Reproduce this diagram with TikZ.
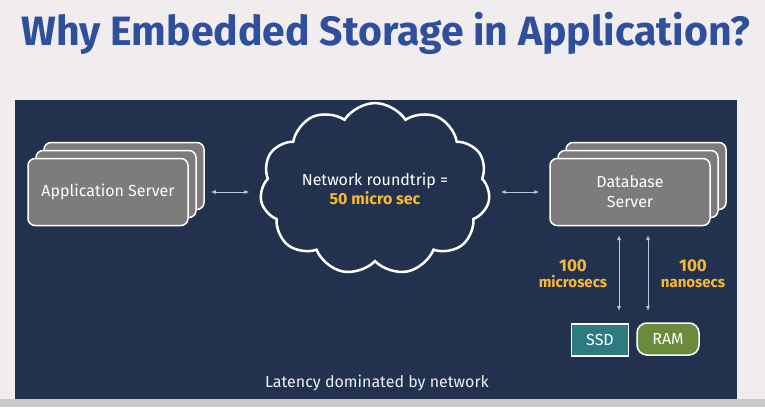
\documentclass[tikz,border=0pt]{standalone}
\usepackage{fontspec}
\setmainfont{Fira Sans}
\usepackage{tikz}
\usetikzlibrary{positioning, arrows.meta, shapes.symbols, shadows}

\definecolor{pagebg}{HTML}{F1EDEF}
\definecolor{titleblue}{HTML}{2E4F9B}
\definecolor{panelblue}{HTML}{22324E}
\definecolor{boxgray}{HTML}{7D7B7B}
\definecolor{linkgray}{HTML}{BCC8D8}
\definecolor{hiyellow}{HTML}{F6B931}
\definecolor{ssdteal}{HTML}{2B7B80}
\definecolor{ramgreen}{HTML}{6A8B3B}
\definecolor{stripgray}{HTML}{C9C9C9}
\newcommand{\unitfont}{\bfseries\fontsize{15}{16}\selectfont}

\begin{document}
\begin{tikzpicture}[x=1pt, y=-1pt,
  server/.style={draw=white, line width=1.5pt, fill=boxgray, rounded corners=7pt,
    minimum width=160pt, minimum height=67pt, text=white, align=center,
    font=\fontsize{16}{20}\selectfont,
    double copy shadow={shadow xshift=8pt, shadow yshift=8pt, fill=boxgray, draw=white, line width=1.5pt}},
  link/.style={draw=linkgray, line width=1pt, {Latex[length=5pt,width=4pt]}-{Latex[length=5pt,width=4pt]}},
  figure/.style={text=hiyellow, font=\bfseries\fontsize{17}{16}\selectfont, align=center}]
% background
\fill[pagebg] (0,0) rectangle (765,407);
\fill[stripgray] (0,399) rectangle (765,407);
\fill[panelblue] (15,100) rectangle (737,399);
\useasboundingbox (0,0) rectangle (765,407);

% nodes
\node[text=titleblue, font=\bfseries\fontsize{41}{44}\selectfont] (title) at (386,33) {Why Embedded Storage in Application?};
\node[server] (app) at (108,192) {Application Server};
\node[cloud, cloud puffs=11, cloud puff arc=115, aspect=1.5, draw=white, line width=2.5pt,
  minimum width=226pt, minimum height=146pt, text=white, align=center,
  font=\fontsize{16}{19}\selectfont] (net) at (375,189)
  {Network roundtrip =\\ \textcolor{hiyellow}{\bfseries 50 micro sec}};
\node[server] (db) at (630,192) {Database\\Server};
\node[draw=white, line width=1.5pt, fill=ssdteal, minimum width=57pt, minimum height=32pt,
  text=white, font=\fontsize{16}{16}\selectfont] (ssd) at (600,340) {SSD};
\node[draw=white, line width=1.5pt, fill=ramgreen, rounded corners=10pt, minimum width=62pt,
  minimum height=32pt, text=white, font=\fontsize{16}{16}\selectfont] (ram) at (668,339) {RAM};
\node[figure] (ssdtime) at (573,274) {100\\{\unitfont microsecs}};
\node[figure] (ramtime) at (693,274) {100\\{\unitfont nanosecs}};
\node[text=white!92!panelblue, font=\fontsize{16}{16}\selectfont] (note) at (377,383) {Latency dominated by network};

% arrows
\coordinate (ssdtop) at (619,235);
\coordinate (ssdend) at (619,311);
\coordinate (ramtop) at (648,235);
\coordinate (ramend) at (648,311);
\draw[link, shorten <=22pt, shorten >=11pt] (app.east) -- (app.east -| net.west);
\draw[link, shorten <=11pt, shorten >=10pt] (db.west -| net.east) -- (db.west);
\draw[link] (ssdtop) -- (ssdend);
\draw[link] (ramtop) -- (ramend);
\end{tikzpicture}
\end{document}
